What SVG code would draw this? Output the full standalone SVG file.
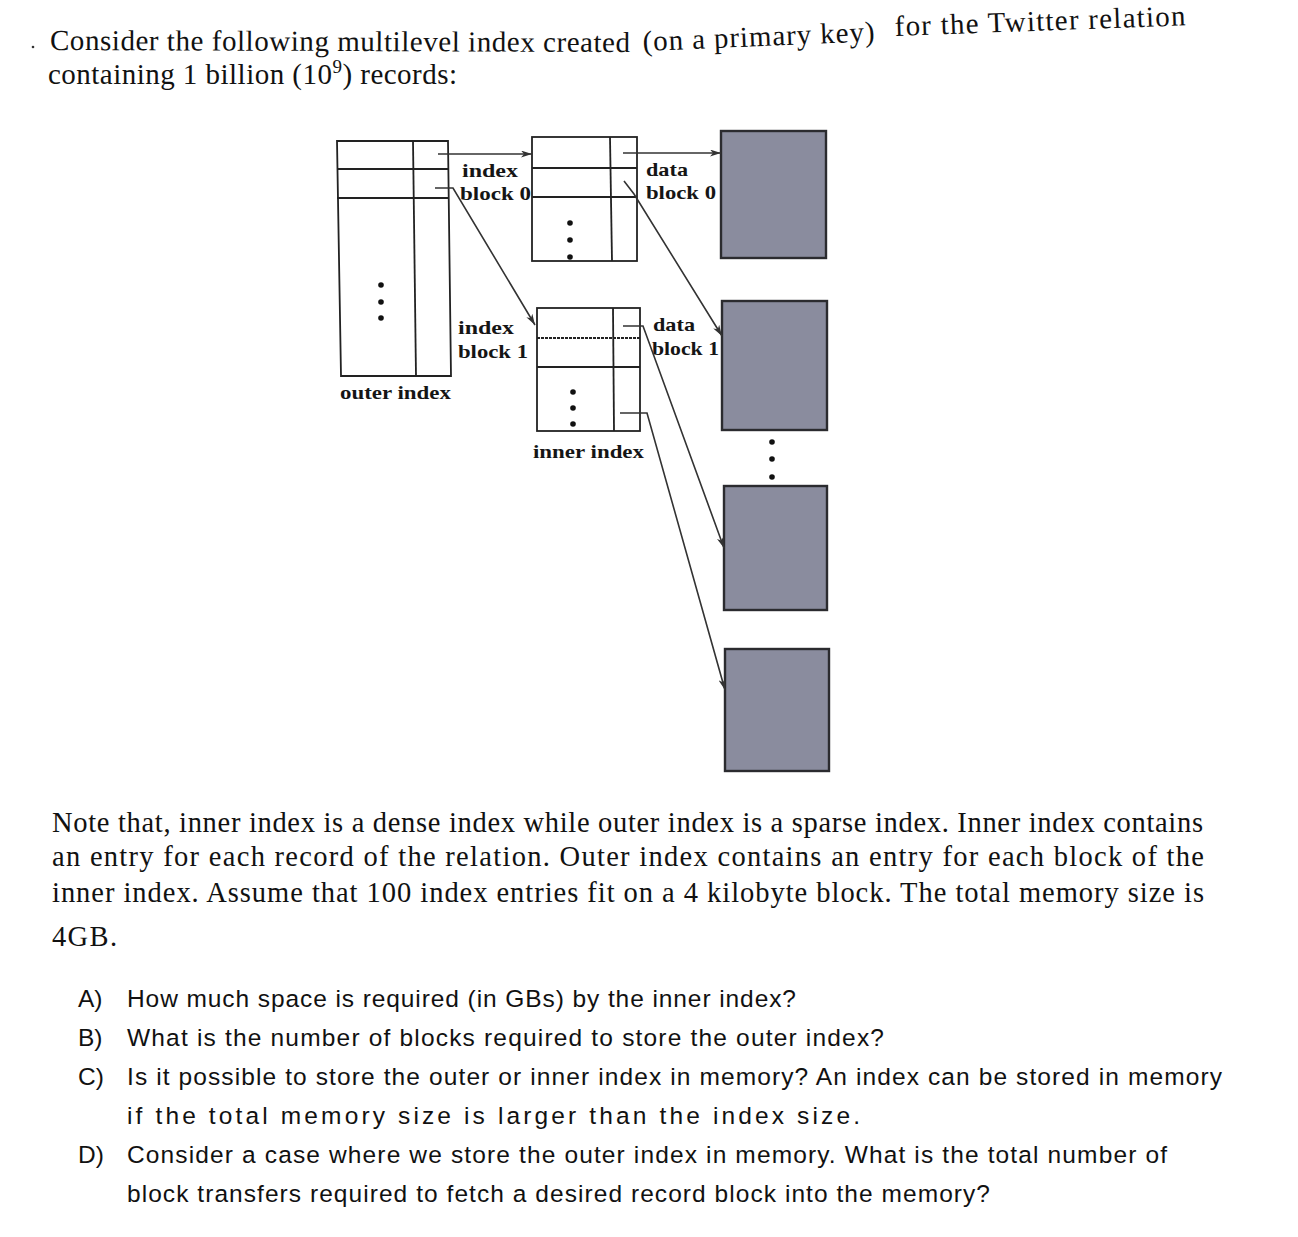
<svg xmlns="http://www.w3.org/2000/svg" width="1298" height="1237" viewBox="0 0 1298 1237">
<style>
.box{fill:#fff;stroke:#222;stroke-width:1.8}
.ln{stroke:#222;stroke-width:1.8;fill:none}
.data{fill:#8a8c9e;stroke:#2b2b2f;stroke-width:2.4}
.conn{fill:none;stroke:#333;stroke-width:1.6;marker-end:url(#ah)}
.dot{fill:#111}
.lbl{font-family:"Liberation Serif","Times New Roman",serif;font-weight:bold;font-size:19.5px;fill:#151515}
.tt{font-family:"Liberation Serif","Times New Roman",serif;font-size:29px;fill:#111}
.np{font-family:"Liberation Serif","Times New Roman",serif;font-size:28.5px;fill:#111}
.q{font-family:"Liberation Sans",Arial,sans-serif;font-size:24.5px;fill:#111}
</style>
<defs>
<marker id="ah" viewBox="0 0 11 7" refX="11" refY="3.5" markerWidth="11" markerHeight="7" markerUnits="userSpaceOnUse" orient="auto">
<path d="M0,0 L11,3.5 L0,7 L3,3.5 z" fill="#333"/>
</marker>
</defs>
<rect width="1298" height="1237" fill="#fff"/>

<g id="title">
<circle cx="33" cy="47" r="1.3" fill="#333"/>
<text class="tt" x="50" y="50" textLength="580" transform="rotate(0.2 50 50)">Consider the following multilevel index created</text>
<text class="tt" x="643" y="51" textLength="232" transform="rotate(-2.4 643 51)">(on a primary key)</text>
<text class="tt" x="895" y="36" textLength="291" transform="rotate(-2.1 895 36)">for the Twitter relation</text>
<text class="tt" x="48" y="84" textLength="409">containing 1 billion (10<tspan font-size="19" dy="-11">9</tspan><tspan dy="11">) records:</tspan></text>
</g>

<g id="outer-index">
<polygon class="box" points="337,141 448,141 451,376 341,376"/>
<line class="ln" x1="337" y1="169" x2="448" y2="169"/>
<line class="ln" x1="337" y1="198" x2="449" y2="198"/>
<line class="ln" x1="413" y1="141" x2="416" y2="376"/>
<circle class="dot" cx="381" cy="285" r="2.8"/>
<circle class="dot" cx="381" cy="302" r="2.8"/>
<circle class="dot" cx="381" cy="318" r="2.8"/>
<text class="lbl" x="340" y="399" textLength="111" lengthAdjust="spacingAndGlyphs">outer index</text>
</g>

<g id="inner-block-0">
<rect class="box" x="532" y="137" width="105" height="124"/>
<line class="ln" x1="532" y1="168" x2="637" y2="168"/>
<line class="ln" x1="532" y1="197" x2="637" y2="197"/>
<line class="ln" x1="610" y1="137" x2="612" y2="261"/>
<circle class="dot" cx="570" cy="223" r="2.8"/>
<circle class="dot" cx="570" cy="240" r="2.8"/>
<circle class="dot" cx="570" cy="257" r="2.8"/>
<text class="lbl" x="462" y="177" textLength="56" lengthAdjust="spacingAndGlyphs">index</text>
<text class="lbl" x="460" y="200" textLength="71" lengthAdjust="spacingAndGlyphs">block 0</text>
</g>

<g id="inner-block-1">
<rect class="box" x="537" y="308" width="103" height="123"/>
<line class="ln" x1="537" y1="338" x2="640" y2="338" stroke-dasharray="3 1"/>
<line class="ln" x1="537" y1="367" x2="640" y2="367"/>
<line class="ln" x1="613" y1="308" x2="614" y2="431"/>
<circle class="dot" cx="573" cy="392" r="2.8"/>
<circle class="dot" cx="573" cy="408" r="2.8"/>
<circle class="dot" cx="573" cy="424" r="2.8"/>
<text class="lbl" x="458" y="334" textLength="56" lengthAdjust="spacingAndGlyphs">index</text>
<text class="lbl" x="458" y="358" textLength="70" lengthAdjust="spacingAndGlyphs">block 1</text>
<text class="lbl" x="533" y="458" textLength="111" lengthAdjust="spacingAndGlyphs">inner index</text>
</g>

<g id="data-block-0">
<rect class="data" x="721" y="131" width="105" height="127"/>
<text class="lbl" x="646" y="176" textLength="42" lengthAdjust="spacingAndGlyphs" fill="#333">data</text>
<text class="lbl" x="646" y="199" textLength="70" lengthAdjust="spacingAndGlyphs">block 0</text>
</g>
<g id="data-block-1">
<rect class="data" x="722" y="301" width="105" height="129"/>
<text class="lbl" x="653" y="331" textLength="42" lengthAdjust="spacingAndGlyphs">data</text>
<text class="lbl" x="652" y="355" textLength="67" lengthAdjust="spacingAndGlyphs">block 1</text>
</g>
<g id="data-dots">
<circle class="dot" cx="772" cy="442" r="2.8"/>
<circle class="dot" cx="772" cy="459" r="2.8"/>
<circle class="dot" cx="772" cy="477" r="2.8"/>
</g>
<g id="data-block-2">
<rect class="data" x="724" y="486" width="103" height="124"/>
</g>
<g id="data-block-3">
<rect class="data" x="725" y="649" width="104" height="122"/>
</g>

<g id="connectors">
<path class="conn" d="M438,154 L532,154"/>
<path class="conn" d="M435,188 L453,188 L535,325"/>
<path class="conn" d="M623,153 L721,153"/>
<path class="conn" d="M624,181 L634,194 L722,336"/>
<path class="conn" d="M623,326 L643,326 L724,548"/>
<path class="conn" d="M620,413 L647,413 L725,690"/>
</g>

<g id="note">
<text class="np" x="52" y="832" textLength="1151">Note that, inner index is a dense index while outer index is a sparse index. Inner index contains</text>
<text class="np" x="52" y="866" textLength="1152">an entry for each record of the relation. Outer index contains an entry for each block of the</text>
<text class="np" x="52" y="902" textLength="1152">inner index. Assume that 100 index entries fit on a 4 kilobyte block. The total memory size is</text>
<text class="np" x="52" y="946" textLength="65">4GB.</text>
</g>

<g id="questions">
<text class="q" x="78" y="1007">A)</text>
<text class="q" x="127" y="1007" textLength="669">How much space is required (in GBs) by the inner index?</text>
<text class="q" x="78" y="1046">B)</text>
<text class="q" x="127" y="1046" textLength="757">What is the number of blocks required to store the outer index?</text>
<text class="q" x="78" y="1085">C)</text>
<text class="q" x="127" y="1085" textLength="1095">Is it possible to store the outer or inner index in memory? An index can be stored in memory</text>
<text class="q" x="127" y="1124" textLength="733">if the total memory size is larger than the index size.</text>
<text class="q" x="78" y="1163">D)</text>
<text class="q" x="127" y="1163" textLength="1040">Consider a case where we store the outer index in memory. What is the total number of</text>
<text class="q" x="127" y="1202" textLength="863">block transfers required to fetch a desired record block into the memory?</text>
</g>
</svg>
